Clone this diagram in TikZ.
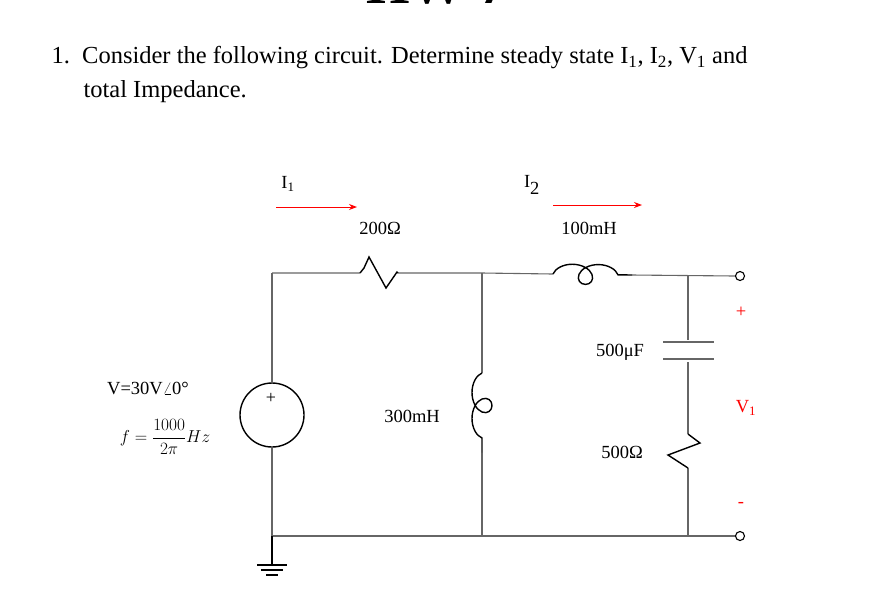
\documentclass[tikz,border=0pt]{standalone}
\usepackage{fontspec}
\setmainfont{Liberation Serif}
\usetikzlibrary{decorations.pathmorphing,arrows.meta}
\begin{document}
\begin{tikzpicture}[x=1pt,y=-1pt,
  w/.style={draw=gray!80!black,line width=1.1pt},
  k/.style={draw=black,line width=1.4pt},
  coilh/.style={k,decorate,decoration={coil,aspect=1.3,segment length=26pt,amplitude=10pt}},
  rd/.style={red,line width=1pt,-{Stealth[length=8pt]}},
  lab/.style={font=\fontsize{18.5}{20}\selectfont},
  term/.style={circle,draw,line width=1.1pt,inner sep=0pt,minimum size=9pt}]
\useasboundingbox (0,0) rectangle (874,606);
\begin{scope}
\clip (0,0) rectangle (874,606);
\node[font=\fontsize{56}{56}\selectfont\bfseries] (hw) at (437,-14) {HW 7};
\end{scope}
\node[anchor=west,font=\fontsize{24.5}{26}\selectfont] (t1) at (48,58) {1.\ \ Consider the following circuit. Determine steady state I\textsubscript{1}, I\textsubscript{2}, V\textsubscript{1} and};
\node[anchor=west,font=\fontsize{24.5}{26}\selectfont] (t2) at (80,92) {total Impedance.};
% coordinates
\coordinate (tl) at (272,273); \coordinate (r1a) at (360,273); \coordinate (r1b) at (398,273);
\coordinate (tm) at (482,273); \coordinate (l1a) at (553,274); \coordinate (l1b) at (632,275);
\coordinate (tr) at (688,275); \node[term] (o1) at (740,276) {};
\coordinate (bl) at (272,536); \coordinate (bm) at (482,536); \coordinate (br) at (688,536);
\node[term] (o2) at (740,536) {};
\node[circle,draw,line width=1.4pt,minimum size=64pt,inner sep=0pt] (src) at (272,415) {};
\node[font=\fontsize{18}{18}\selectfont] (pl) at (271,398) {+};
% wires
\draw[w] (tl) -- (r1a) (r1b) -- (tm) -- (l1a) (l1b) -- (o1.west);
\draw[w] (tl) -- (src.north);
\draw[w] (src.south) -- (bl) -- (bm) -- (br) -- (o2.west);
\draw[w] (tm) -- (482,373) (482,452) -- (bm);
\draw[w] (tr) -- (688,340) (688,362) -- (688,434) (688,468) -- (br);
% resistor 200
\draw[k] (r1a) -- (364,268) -- (369,257) -- (386,288) -- (397,272) -- (r1b);
% resistor 500
\draw[k] (688,434) -- (700,443) -- (668,455) -- (688,468);
% capacitor
\draw[w] (663,342) -- (714,342) (663,359) -- (714,359);
% inductors
\draw[coilh] (l1a) -- (l1b);
\draw[k,decorate,decoration={coil,aspect=1.3,segment length=26pt,amplitude=10pt,mirror}] (482,373) -- (482,452);
% ground
\draw[k] (bl) -- (272,565);
\draw[k] (257,565) -- (287,565) (261,570) -- (283,570) (266,575) -- (278,575);
% labels
\node[lab] (a) at (380,228) {200Ω};
\node[lab] (b) at (589,228) {100mH};
\node[lab] (c) at (620,352) {500μF};
\node[lab] (d) at (412,416) {300mH};
\node[lab] (e) at (622,452) {500Ω};
\node[lab] (v) at (148,388) {V=30V$\angle$0°};
\node[font=\fontsize{19}{20}\selectfont] (f) at (165,437) {$f=\displaystyle\frac{1000}{2\pi}Hz$};
% currents
\node[lab] (i1) at (288,184) {I\textsubscript{1}};
\node[lab] (i2) at (532,185) {I$_{\textrm{2}}$};
\coordinate (a1) at (276,207); \coordinate (a2) at (357,207);
\coordinate (b1) at (553,205); \coordinate (b2) at (642,205);
\draw[rd] (a1) -- (a2);
\draw[rd] (b1) -- (b2);
\node[lab,red] (pp) at (741,312) {+};
\node[lab,red] (v1) at (746,408) {V\textsubscript{1}};
\node[lab,red] (mm) at (741,505) {-};
\end{tikzpicture}
\end{document}
